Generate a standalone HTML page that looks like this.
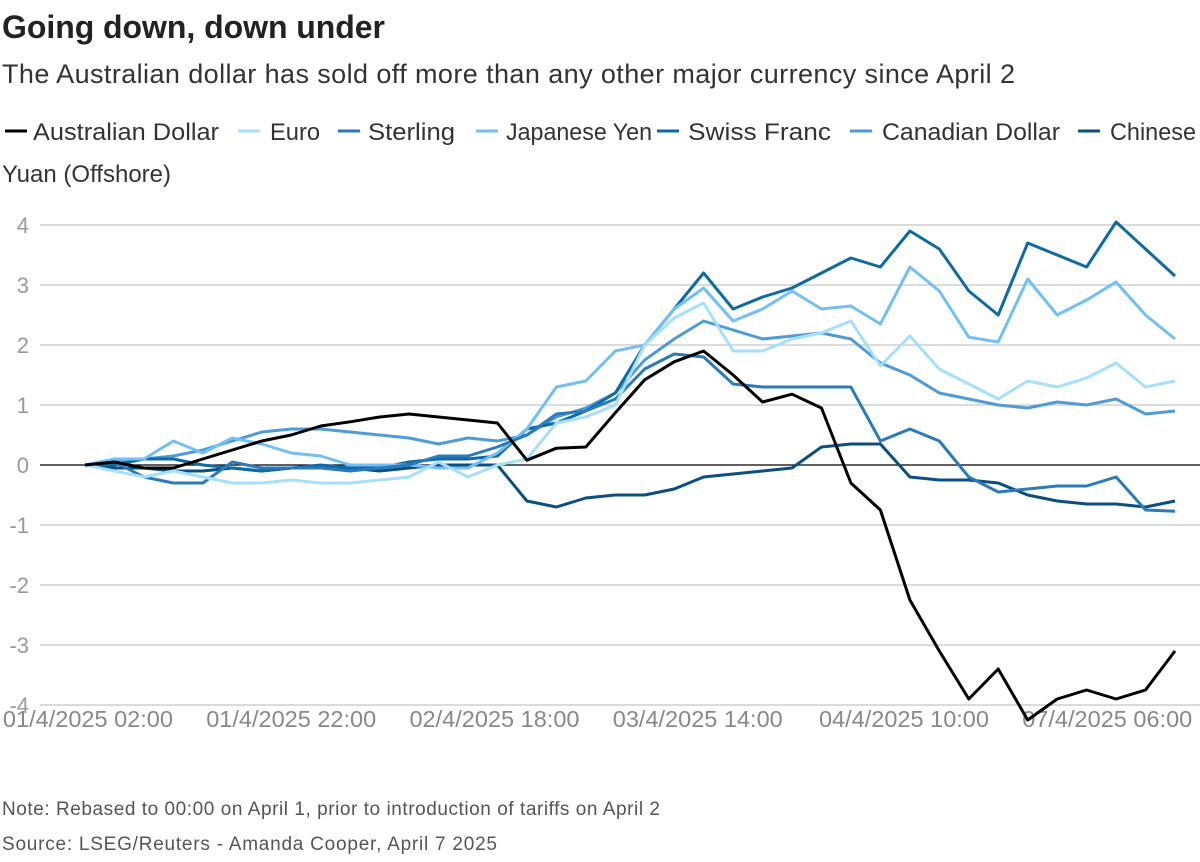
<!DOCTYPE html>
<html><head><meta charset="utf-8">
<style>
body{margin:0;background:#fff;width:1200px;height:857px;overflow:hidden;font-family:"Liberation Sans",sans-serif;}
svg text{font-family:"Liberation Sans",sans-serif;}
</style></head>
<body>
<svg id="chart" width="1200" height="857" viewBox="0 0 1200 857">
<text x="2" y="38" font-size="32" font-weight="bold" fill="#222" textLength="383">Going down, down under</text>
<text x="2" y="83" font-size="27" fill="#333" textLength="1013">The Australian dollar has sold off more than any other major currency since April 2</text>
<g id="legend"></g>
<g id="grid"></g>
<g id="yaxis"></g>
<g id="xaxis"></g>
<g id="lines"></g>
<text x="2" y="815" font-size="19" fill="#555" textLength="658">Note: Rebased to 00:00 on April 1, prior to introduction of tariffs on April 2</text>
<text x="2" y="850" font-size="19" fill="#555" textLength="495">Source: LSEG/Reuters - Amanda Cooper, April 7 2025</text>
</svg>
<script>
var seriesNames = ["Australian Dollar","Euro","Sterling","Japanese Yen","Swiss Franc","Canadian Dollar","Chinese Yuan (Offshore)"];
var seriesColors = ["#000000","#a6dffb","#2b7bba","#72bff5","#0e6aa3","#4e9bd8","#0b4f80"];
var xTickLabels = ["01/4/2025 02:00","01/4/2025 22:00","02/4/2025 18:00","03/4/2025 14:00","04/4/2025 10:00","07/4/2025 06:00"];
var xTickIndex = [0.1,7,13.9,20.8,27.8,34.7];
var yTicks = [4,3,2,1,0,-1,-2,-3,-4];
var aud = [0,0.05,-0.05,-0.05,0.1,0.25,0.4,0.5,0.65,0.72,0.8,0.85,0.8,0.75,0.7,0.08,0.28,0.3,0.87,1.42,1.72,1.9,1.5,1.05,1.18,0.95,-0.3,-0.75,-2.25,-3.1,-3.9,-3.4,-4.25,-3.9,-3.75,-3.9,-3.75,-3.1];
var eur = [0,-0.1,-0.2,-0.1,-0.2,-0.3,-0.3,-0.25,-0.3,-0.3,-0.25,-0.2,0.05,-0.2,0.0,0.1,0.7,0.8,1.0,2.0,2.45,2.7,1.9,1.9,2.1,2.2,2.4,1.65,2.15,1.6,1.35,1.1,1.4,1.3,1.45,1.7,1.3,1.4];
var gbp = [0,0.05,-0.2,-0.3,-0.3,0.05,-0.05,-0.05,-0.05,-0.1,-0.05,0,0.15,0.15,0.3,0.5,0.85,0.9,1.1,1.6,1.85,1.8,1.35,1.3,1.3,1.3,1.3,0.4,0.6,0.4,-0.2,-0.45,-0.4,-0.35,-0.35,-0.2,-0.75,-0.77];
var jpy = [0,0.1,0.1,0.4,0.2,0.45,0.35,0.2,0.15,0,0,0,-0.05,-0.05,0.2,0.6,1.3,1.4,1.9,2.0,2.6,2.95,2.4,2.6,2.9,2.6,2.65,2.35,3.3,2.9,2.13,2.05,3.1,2.5,2.75,3.05,2.5,2.1];
var chf = [0,0,0.1,0.1,0,-0.05,-0.1,-0.05,0,-0.05,-0.05,0.05,0.1,0.1,0.15,0.6,0.7,0.9,1.2,2.0,2.6,3.2,2.6,2.8,2.95,3.2,3.45,3.3,3.9,3.6,2.9,2.5,3.7,3.5,3.3,4.05,3.6,3.15];
var cad = [0,0.05,0.1,0.15,0.25,0.4,0.55,0.6,0.6,0.55,0.5,0.45,0.35,0.45,0.4,0.5,0.8,0.95,1.2,1.75,2.1,2.4,2.25,2.1,2.15,2.2,2.1,1.7,1.5,1.2,1.1,1.0,0.95,1.05,1.0,1.1,0.85,0.9];
var cny = [0,-0.05,-0.05,-0.1,-0.1,-0.05,-0.1,-0.05,-0.05,-0.05,-0.1,-0.05,0,0,0,-0.6,-0.7,-0.55,-0.5,-0.5,-0.4,-0.2,-0.15,-0.1,-0.05,0.3,0.35,0.35,-0.2,-0.25,-0.25,-0.3,-0.5,-0.6,-0.65,-0.65,-0.7,-0.6];
var allSeries = [aud,eur,gbp,jpy,chf,cad,cny];
var NS="http://www.w3.org/2000/svg";
var X0=85,X1=1175,Y0=465,PX=60;
function xs(i){return X0+(X1-X0)*i/(aud.length-1);}
function ys(v){return Y0-v*PX;}
function mk(t,a,p){var e=document.createElementNS(NS,t);for(var k in a)e.setAttribute(k,a[k]);p.appendChild(e);return e;}
var grid=document.getElementById('grid'),ya=document.getElementById('yaxis'),xa=document.getElementById('xaxis'),lines=document.getElementById('lines'),leg=document.getElementById('legend');
yTicks.forEach(function(t){
  var l=mk('line',{x1:40,x2:1200,y1:ys(t),y2:ys(t),stroke:t===0?'#000':'#cfcfcf','stroke-width':t===0?1.2:1.5},grid);
  
  
  var tx=mk('text',{x:29,y:ys(t)+8,'text-anchor':'end','font-size':22,fill:'#999'},ya);
  tx.textContent=String(t);
  
  
});
xTickLabels.forEach(function(s,i){
  var tx=mk('text',{x:xs(xTickIndex[i]),y:727,'text-anchor':'middle','font-size':23,fill:'#888',textLength:170,lengthAdjust:'spacingAndGlyphs'},xa);
  tx.textContent=s;
  
  
});
for(var s=allSeries.length-1;s>=0;s--){
  var d=allSeries[s].map(function(v,i){return (i?'L':'M')+xs(i).toFixed(1)+','+ys(v).toFixed(1);}).join(' ');
  var p=mk('path',{d:d,fill:'none',stroke:seriesColors[s],'stroke-width':3,'stroke-linejoin':'round'},lines);
  
  
}
var legPos=[[5,33,186],[238,270,50],[338,368,87],[476,506,146],[657,688,143],[850,882,178],[1078,1110,86]];
seriesNames.forEach(function(n,i){
  var g=mk('g',{},leg);
  
  
  mk('line',{x1:legPos[i][0],x2:legPos[i][0]+22,y1:131,y2:131,stroke:seriesColors[i],'stroke-width':3},g);
  var t=mk('text',{x:legPos[i][1],y:140,'font-size':24,fill:'#333',textLength:legPos[i][2],lengthAdjust:'spacingAndGlyphs'},g);
  if(i===6){t.textContent='Chinese';var t2=mk('text',{x:2,y:182,'font-size':24,fill:'#333',textLength:169,lengthAdjust:'spacingAndGlyphs'},g);t2.textContent='Yuan (Offshore)';}
  else t.textContent=n;
});
</script>
</body></html>
